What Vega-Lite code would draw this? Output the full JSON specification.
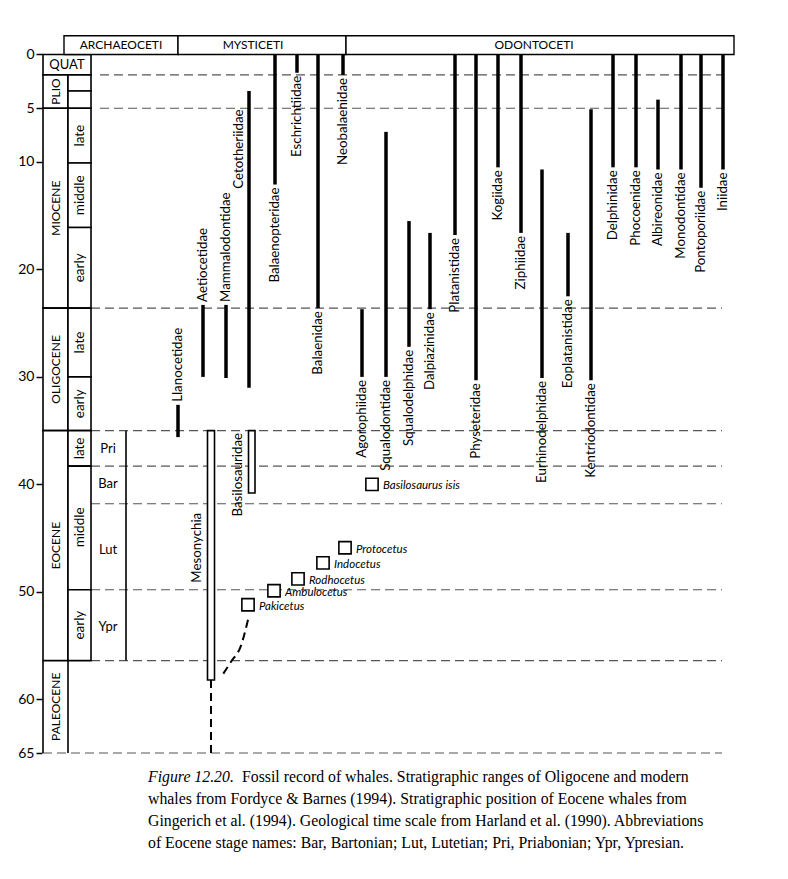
{
  "$schema": "https://vega.github.io/schema/vega-lite/v6.json",
  "width": 746,
  "height": 846,
  "autosize": "none",
  "padding": {"left": 42, "top": 33, "right": 0, "bottom": 0},
  "background": "white",
  "config": {"view": {"stroke": null}, "font": "Lato"},
  "resolve": {"axis": {"x": "independent", "y": "independent"}},
  "datasets": {
    "bounds": [
      {"ma": 1.9, "from": 100, "to": 722},
      {"ma": 5.0, "from": 100, "to": 722},
      {"ma": 23.6, "from": 91, "to": 722},
      {"ma": 35.0, "from": 91, "to": 722},
      {"ma": 38.3, "from": 91, "to": 722},
      {"ma": 41.8, "from": 91, "to": 722},
      {"ma": 49.8, "from": 91, "to": 722},
      {"ma": 56.4, "from": 91, "to": 722},
      {"ma": 65.0, "from": 43, "to": 722}
    ],
    "units": [
      {"unit": "Quaternary", "x1": 43, "x2": 91, "top": 0, "bottom": 1.9},
      {"unit": "Pliocene", "x1": 43, "x2": 68, "top": 1.9, "bottom": 5.0},
      {"unit": "late Pliocene", "x1": 68, "x2": 91, "top": 1.9, "bottom": 3.4},
      {"unit": "early Pliocene", "x1": 68, "x2": 91, "top": 3.4, "bottom": 5.0},
      {"unit": "Miocene", "x1": 43, "x2": 68, "top": 5.0, "bottom": 23.6},
      {"unit": "late Miocene", "x1": 68, "x2": 91, "top": 5.0, "bottom": 10.1},
      {"unit": "middle Miocene", "x1": 68, "x2": 91, "top": 10.1, "bottom": 16.1},
      {"unit": "early Miocene", "x1": 68, "x2": 91, "top": 16.1, "bottom": 23.6},
      {"unit": "Oligocene", "x1": 43, "x2": 68, "top": 23.6, "bottom": 35.0},
      {"unit": "late Oligocene", "x1": 68, "x2": 91, "top": 23.6, "bottom": 30.0},
      {"unit": "early Oligocene", "x1": 68, "x2": 91, "top": 30.0, "bottom": 35.0},
      {"unit": "Eocene", "x1": 43, "x2": 68, "top": 35.0, "bottom": 56.4},
      {"unit": "late Eocene", "x1": 68, "x2": 91, "top": 35.0, "bottom": 38.3},
      {"unit": "middle Eocene", "x1": 68, "x2": 91, "top": 38.3, "bottom": 49.8},
      {"unit": "early Eocene", "x1": 68, "x2": 91, "top": 49.8, "bottom": 56.4}
    ],
    "frame": [
      {"x": 43, "top": 56.4, "bottom": 65},
      {"x": 68, "top": 56.4, "bottom": 65},
      {"x": 126, "top": 35.0, "bottom": 56.4}
    ],
    "unitLabelsV": [
      {"text": "PLIO", "x": 56, "ma": 3.45, "size": "epoch"},
      {"text": "MIOCENE", "x": 56, "ma": 14.3, "size": "epoch"},
      {"text": "OLIGOCENE", "x": 56, "ma": 29.3, "size": "epoch"},
      {"text": "EOCENE", "x": 56, "ma": 45.7, "size": "epoch"},
      {"text": "PALEOCENE", "x": 56, "ma": 60.7, "size": "epoch"},
      {"text": "late", "x": 80, "ma": 7.55, "size": "sub"},
      {"text": "middle", "x": 80, "ma": 13.1, "size": "sub"},
      {"text": "early", "x": 80, "ma": 19.85, "size": "sub"},
      {"text": "late", "x": 80, "ma": 26.8, "size": "sub"},
      {"text": "early", "x": 80, "ma": 32.5, "size": "sub"},
      {"text": "late", "x": 80, "ma": 36.65, "size": "sub"},
      {"text": "middle", "x": 80, "ma": 44.0, "size": "sub"},
      {"text": "early", "x": 80, "ma": 53.1, "size": "sub"}
    ],
    "unitLabelsH": [
      {"text": "QUAT", "x": 67, "ma": 0.95},
      {"text": "Pri", "x": 108, "ma": 36.7},
      {"text": "Bar", "x": 108, "ma": 40.0},
      {"text": "Lut", "x": 108, "ma": 46.1},
      {"text": "Ypr", "x": 108, "ma": 53.3}
    ],
    "suborders": [
      {"name": "ARCHAEOCETI", "x1": 64, "x2": 178, "cx": 121, "top": -1.75, "bottom": 0, "mid": -0.85},
      {"name": "MYSTICETI", "x1": 178, "x2": 346, "cx": 253, "top": -1.75, "bottom": 0, "mid": -0.85},
      {"name": "ODONTOCETI", "x1": 346, "x2": 734, "cx": 534, "top": -1.75, "bottom": 0, "mid": -0.85}
    ],
    "families": [
      {"family": "Llanocetidae", "x": 178, "top": 32.6, "bottom": 35.6, "lab": "above"},
      {"family": "Aetiocetidae", "x": 203, "top": 23.3, "bottom": 30.0, "lab": "above"},
      {"family": "Mammalodontidae", "x": 226, "top": 23.3, "bottom": 30.1, "lab": "above"},
      {"family": "Cetotheriidae", "x": 249, "top": 3.4, "bottom": 31.0, "lab": "side"},
      {"family": "Balaenopteridae", "x": 275, "top": 0, "bottom": 12.1, "lab": "below"},
      {"family": "Eschrichtiidae", "x": 297, "top": 0, "bottom": 1.7, "lab": "below"},
      {"family": "Balaenidae", "x": 318, "top": 0, "bottom": 23.6, "lab": "below"},
      {"family": "Neobalaenidae", "x": 343, "top": 0, "bottom": 1.9, "lab": "below"},
      {"family": "Agorophiidae", "x": 362, "top": 23.7, "bottom": 30.0, "lab": "below"},
      {"family": "Squalodontidae", "x": 386, "top": 7.2, "bottom": 30.0, "lab": "below"},
      {"family": "Squalodelphidae", "x": 409, "top": 15.5, "bottom": 27.2, "lab": "below"},
      {"family": "Dalpiazinidae", "x": 430, "top": 16.6, "bottom": 23.7, "lab": "below"},
      {"family": "Platanistidae", "x": 455, "top": 0, "bottom": 16.8, "lab": "below"},
      {"family": "Physeteridae", "x": 476, "top": 0, "bottom": 30.3, "lab": "below"},
      {"family": "Kogiidae", "x": 498, "top": 0, "bottom": 10.5, "lab": "below"},
      {"family": "Ziphiidae", "x": 521, "top": 0, "bottom": 16.6, "lab": "below"},
      {"family": "Eurhinodelphidae", "x": 542, "top": 10.7, "bottom": 30.1, "lab": "below"},
      {"family": "Eoplatanistidae", "x": 568, "top": 16.6, "bottom": 22.5, "lab": "below"},
      {"family": "Kentriodontidae", "x": 591, "top": 5.1, "bottom": 30.3, "lab": "below"},
      {"family": "Delphinidae", "x": 613, "top": 0, "bottom": 10.5, "lab": "below"},
      {"family": "Phocoenidae", "x": 636, "top": 0, "bottom": 10.5, "lab": "below"},
      {"family": "Albireonidae", "x": 658, "top": 4.2, "bottom": 10.7, "lab": "below"},
      {"family": "Monodontidae", "x": 681, "top": 0, "bottom": 10.7, "lab": "below"},
      {"family": "Pontoporiidae", "x": 701, "top": 0, "bottom": 12.4, "lab": "below"},
      {"family": "Iniidae", "x": 723, "top": 0, "bottom": 10.7, "lab": "below"}
    ],
    "sideLabels": [
      {"text": "Cetotheriidae", "x": 239, "ma": 8.8},
      {"text": "Mesonychia", "x": 197, "ma": 45.9},
      {"text": "Basilosauridae", "x": 238, "ma": 39.1}
    ],
    "hollow": [
      {"name": "Mesonychia", "x1": 207.5, "x2": 214.5, "top": 35.0, "bottom": 58.2},
      {"name": "Basilosauridae", "x1": 248.5, "x2": 255, "top": 35.0, "bottom": 40.8}
    ],
    "dashed": [
      {"seg": "Mesonychia", "ord": 1, "x": 211, "ma": 58.2},
      {"seg": "Mesonychia", "ord": 2, "x": 211, "ma": 65.0},
      {"seg": "Pakicetus", "ord": 1, "x": 248, "ma": 52.6},
      {"seg": "Pakicetus", "ord": 2, "x": 241, "ma": 55.0},
      {"seg": "Pakicetus", "ord": 3, "x": 231, "ma": 56.5},
      {"seg": "Pakicetus", "ord": 4, "x": 222, "ma": 57.8}
    ],
    "genera": [
      {"genus": "Basilosaurus  isis", "x": 372, "ma": 40.0},
      {"genus": "Protocetus", "x": 345, "ma": 45.9},
      {"genus": "Indocetus", "x": 323, "ma": 47.3},
      {"genus": "Rodhocetus", "x": 298, "ma": 48.8},
      {"genus": "Ambulocetus", "x": 274, "ma": 49.9},
      {"genus": "Pakicetus", "x": 248, "ma": 51.2}
    ],
    "caption": [
      {"text": "Figure 12.20.", "x": 148, "ma": 67.2, "style": "italic"},
      {"text": "Fossil record of whales. Stratigraphic ranges of Oligocene and modern", "x": 242, "ma": 67.2, "style": "normal"},
      {"text": "whales from Fordyce & Barnes (1994). Stratigraphic position of Eocene whales from", "x": 148, "ma": 69.25, "style": "normal"},
      {"text": "Gingerich et al. (1994). Geological time scale from Harland et al. (1990). Abbreviations", "x": 148, "ma": 71.3, "style": "normal"},
      {"text": "of Eocene stage names: Bar, Bartonian; Lut, Lutetian; Pri, Priabonian; Ypr, Ypresian.", "x": 148, "ma": 73.35, "style": "normal"}
    ]
  },
  "layer": [
    {
      "data": {"name": "bounds"},
      "mark": {"type": "rule", "strokeDash": [9, 5], "color": "#555555", "strokeWidth": 1.1},
      "encoding": {
        "y": {"field": "ma", "type": "quantitative",
              "scale": {"domain": [-2, 76.72], "reverse": true, "zero": false, "nice": false},
              "axis": {"values": [0, 5, 10, 20, 30, 40, 50, 60, 65], "domain": false, "grid": false, "title": null,
                       "tickSize": 6, "tickColor": "black", "tickWidth": 1.5, "labelFontSize": 14, "labelFont": "Lato",
                       "labelColor": "black", "labelPadding": 2}},
        "x": {"field": "from", "type": "quantitative", "scale": {"domain": [42, 788], "zero": false, "nice": false}, "axis": null},
        "x2": {"field": "to"}
      }
    },
    {
      "data": {"name": "units"},
      "mark": {"type": "rect", "fill": "white", "stroke": "black", "strokeWidth": 1.6},
      "encoding": {
        "x": {"field": "x1", "type": "quantitative", "axis": null},
        "x2": {"field": "x2"},
        "y": {"field": "top", "type": "quantitative", "axis": null},
        "y2": {"field": "bottom"}
      }
    },
    {
      "data": {"name": "frame"},
      "mark": {"type": "rule", "color": "black", "strokeWidth": 1.6},
      "encoding": {
        "x": {"field": "x", "type": "quantitative", "axis": null},
        "y": {"field": "top", "type": "quantitative", "axis": null},
        "y2": {"field": "bottom"}
      }
    },
    {
      "data": {"name": "unitLabelsV"},
      "transform": [{"filter": "datum.size == 'epoch'"}],
      "mark": {"type": "text", "angle": 270, "align": "center", "baseline": "middle", "fontSize": 12, "font": "Lato", "color": "black"},
      "encoding": {
        "x": {"field": "x", "type": "quantitative", "axis": null},
        "y": {"field": "ma", "type": "quantitative", "axis": null},
        "text": {"field": "text"}
      }
    },
    {
      "data": {"name": "unitLabelsV"},
      "transform": [{"filter": "datum.size == 'sub'"}],
      "mark": {"type": "text", "angle": 270, "align": "center", "baseline": "middle", "fontSize": 13.5, "font": "Lato", "color": "black"},
      "encoding": {
        "x": {"field": "x", "type": "quantitative", "axis": null},
        "y": {"field": "ma", "type": "quantitative", "axis": null},
        "text": {"field": "text"}
      }
    },
    {
      "data": {"name": "unitLabelsH"},
      "mark": {"type": "text", "align": "center", "baseline": "middle", "fontSize": 13, "font": "Lato", "color": "black"},
      "encoding": {
        "x": {"field": "x", "type": "quantitative", "axis": null},
        "y": {"field": "ma", "type": "quantitative", "axis": null},
        "text": {"field": "text"}
      }
    },
    {
      "data": {"name": "suborders"},
      "mark": {"type": "rect", "fill": "white", "stroke": "black", "strokeWidth": 1.4},
      "encoding": {
        "x": {"field": "x1", "type": "quantitative", "axis": null},
        "x2": {"field": "x2"},
        "y": {"field": "top", "type": "quantitative", "axis": null},
        "y2": {"field": "bottom"}
      }
    },
    {
      "data": {"name": "suborders"},
      "mark": {"type": "text", "align": "center", "baseline": "middle", "fontSize": 12, "font": "Lato", "color": "black"},
      "encoding": {
        "x": {"field": "cx", "type": "quantitative", "axis": null},
        "y": {"field": "mid", "type": "quantitative", "axis": null},
        "text": {"field": "name"}
      }
    },
    {
      "data": {"name": "families"},
      "mark": {"type": "rule", "color": "black", "strokeWidth": 3.5, "strokeCap": "butt"},
      "encoding": {
        "x": {"field": "x", "type": "quantitative", "axis": null},
        "y": {"field": "top", "type": "quantitative", "axis": null},
        "y2": {"field": "bottom"}
      }
    },
    {
      "data": {"name": "families"},
      "transform": [{"filter": "datum.lab == 'below'"}],
      "mark": {"type": "text", "angle": 270, "align": "right", "baseline": "middle", "dx": -3, "fontSize": 13.3, "font": "Lato", "color": "black"},
      "encoding": {
        "x": {"field": "x", "type": "quantitative", "axis": null},
        "y": {"field": "bottom", "type": "quantitative", "axis": null},
        "text": {"field": "family"}
      }
    },
    {
      "data": {"name": "families"},
      "transform": [{"filter": "datum.lab == 'above'"}],
      "mark": {"type": "text", "angle": 270, "align": "left", "baseline": "middle", "dx": 3, "fontSize": 13.3, "font": "Lato", "color": "black"},
      "encoding": {
        "x": {"field": "x", "type": "quantitative", "axis": null},
        "y": {"field": "top", "type": "quantitative", "axis": null},
        "text": {"field": "family"}
      }
    },
    {
      "data": {"name": "sideLabels"},
      "mark": {"type": "text", "angle": 270, "align": "center", "baseline": "middle", "fontSize": 13.3, "font": "Lato", "color": "black"},
      "encoding": {
        "x": {"field": "x", "type": "quantitative", "axis": null},
        "y": {"field": "ma", "type": "quantitative", "axis": null},
        "text": {"field": "text"}
      }
    },
    {
      "data": {"name": "hollow"},
      "mark": {"type": "rect", "fill": "white", "stroke": "black", "strokeWidth": 1.6},
      "encoding": {
        "x": {"field": "x1", "type": "quantitative", "axis": null},
        "x2": {"field": "x2"},
        "y": {"field": "top", "type": "quantitative", "axis": null},
        "y2": {"field": "bottom"}
      }
    },
    {
      "data": {"name": "dashed"},
      "mark": {"type": "line", "color": "black", "strokeWidth": 2, "strokeDash": [8, 5], "interpolate": "monotone"},
      "encoding": {
        "x": {"field": "x", "type": "quantitative", "axis": null},
        "y": {"field": "ma", "type": "quantitative", "axis": null},
        "detail": {"field": "seg"},
        "order": {"field": "ord"}
      }
    },
    {
      "data": {"name": "genera"},
      "mark": {"type": "point", "shape": "square", "size": 150, "filled": true, "fill": "white", "stroke": "black", "strokeWidth": 1.6, "opacity": 1},
      "encoding": {
        "x": {"field": "x", "type": "quantitative", "axis": null},
        "y": {"field": "ma", "type": "quantitative", "axis": null}
      }
    },
    {
      "data": {"name": "genera"},
      "mark": {"type": "text", "align": "left", "baseline": "middle", "dx": 11, "dy": 2, "fontSize": 11.5, "font": "Lato", "fontStyle": "italic", "color": "black"},
      "encoding": {
        "x": {"field": "x", "type": "quantitative", "axis": null},
        "y": {"field": "ma", "type": "quantitative", "axis": null},
        "text": {"field": "genus"}
      }
    },
    {
      "data": {"name": "caption"},
      "transform": [{"filter": "datum.style == 'italic'"}],
      "mark": {"type": "text", "align": "left", "baseline": "middle", "fontSize": 15.8, "font": "Liberation Serif", "fontStyle": "italic", "color": "black"},
      "encoding": {
        "x": {"field": "x", "type": "quantitative", "axis": null},
        "y": {"field": "ma", "type": "quantitative", "axis": null},
        "text": {"field": "text"}
      }
    },
    {
      "data": {"name": "caption"},
      "transform": [{"filter": "datum.style == 'normal'"}],
      "mark": {"type": "text", "align": "left", "baseline": "middle", "fontSize": 15.8, "font": "Liberation Serif", "color": "black"},
      "encoding": {
        "x": {"field": "x", "type": "quantitative", "axis": null},
        "y": {"field": "ma", "type": "quantitative", "axis": null},
        "text": {"field": "text"}
      }
    }
  ]
}
